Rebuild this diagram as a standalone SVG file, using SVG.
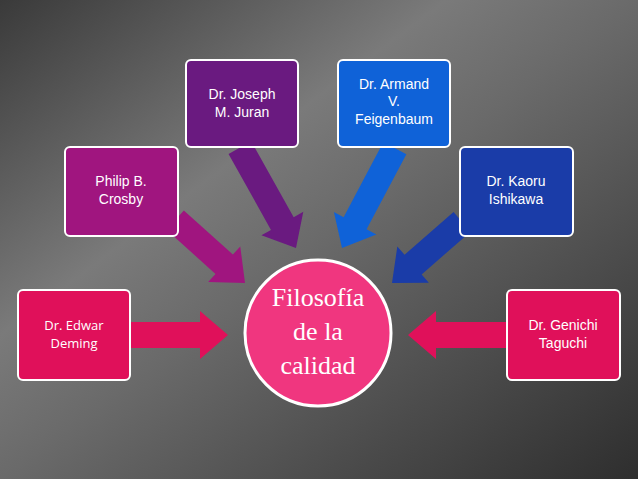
<svg xmlns="http://www.w3.org/2000/svg" width="638" height="479" viewBox="0 0 638 479">
<defs>
<linearGradient id="bg" x1="0" y1="0" x2="1" y2="1">
<stop offset="0" stop-color="#3a3a3a"/>
<stop offset="0.35" stop-color="#7a7a7a"/>
<stop offset="0.5" stop-color="#6a6a6a"/>
<stop offset="1" stop-color="#2e2e2e"/>
</linearGradient>
<style>
.box{stroke:#fff;stroke-width:2}
.t{font-family:"Liberation Sans",Arial,sans-serif;font-size:14px;fill:#fff;text-anchor:middle}
.o{font-family:"Open Sans",sans-serif;font-size:13px;fill:#fff;text-anchor:middle}
</style>
</defs>
<rect width="638" height="479" fill="url(#bg)"/>
<g id="connectors">
<polygon transform="translate(228,335)" points="0,0 -28,-24 -28,-13 -98,-13 -98,13 -28,13 -28,24" fill="#e0105a"/>
<polygon transform="translate(408,335) rotate(180)" points="0,0 -28,-24 -28,-13 -99,-13 -99,13 -28,13 -28,24" fill="#e0105a"/>
<polygon transform="translate(245,283) rotate(42)" points="0,0 -28,-24 -28,-13 -94,-13 -94,13 -28,13 -28,24" fill="#a0157f"/>
<polygon transform="translate(296,248) rotate(60.8)" points="0,0 -28,-24 -28,-13 -115,-13 -115,13 -28,13 -28,24" fill="#6a1a80"/>
<polygon transform="translate(342,248) rotate(117.9)" points="0,0 -28,-24 -28,-13 -113,-13 -113,13 -28,13 -28,24" fill="#0f62d8"/>
<polygon transform="translate(392,283) rotate(138.9)" points="0,0 -28,-24 -28,-13 -93,-13 -93,13 -28,13 -28,24" fill="#1a3ca8"/>
</g>
<g id="deming"><rect class="box" x="18" y="290" width="112" height="90" rx="5" fill="#e0105a"/>
<text class="o" x="74" y="330">Dr. Edwar</text><text class="o" x="74" y="348">Deming</text></g>
<g id="crosby"><rect class="box" x="65" y="147" width="113" height="89" rx="5" fill="#a0157f"/>
<text class="t" x="121" y="186">Philip B.</text><text class="t" x="121" y="204">Crosby</text></g>
<g id="juran"><rect class="box" x="186" y="60" width="112" height="87" rx="5" fill="#6a1a80"/>
<text class="t" x="242" y="99">Dr. Joseph</text><text class="t" x="242" y="117">M. Juran</text></g>
<g id="feigenbaum"><rect class="box" x="338" y="60" width="112" height="87" rx="5" fill="#0f62d8"/>
<text class="t" x="394" y="89">Dr. Armand</text><text class="t" x="394" y="106">V.</text><text class="t" x="394" y="124">Feigenbaum</text></g>
<g id="ishikawa"><rect class="box" x="460" y="147" width="113" height="89" rx="5" fill="#1a3ca8"/>
<text class="t" x="516" y="186">Dr. Kaoru</text><text class="t" x="516" y="204">Ishikawa</text></g>
<g id="taguchi"><rect class="box" x="507" y="290" width="113" height="90" rx="5" fill="#e0105a"/>
<text class="t" x="563" y="330">Dr. Genichi</text><text class="t" x="563" y="348">Taguchi</text></g>
<g id="center"><circle cx="318" cy="333" r="73" fill="#f0367f" stroke="#fff" stroke-width="3"/>
<g font-family="'Liberation Serif',serif" font-size="26" fill="#fff" text-anchor="middle">
<text x="318" y="306">Filosofía</text><text x="318" y="340">de la</text><text x="318" y="374">calidad</text></g></g>
</svg>
